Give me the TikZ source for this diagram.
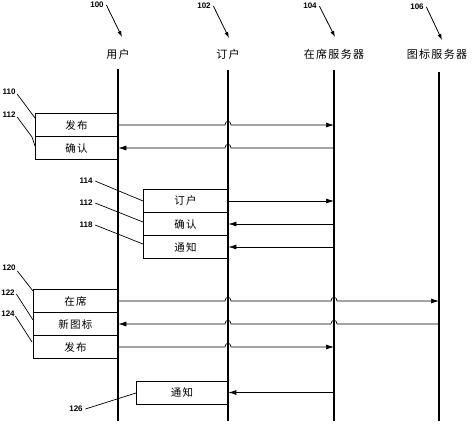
\documentclass[tikz,border=0pt]{standalone}
\usepackage{fontspec}
\newfontfamily\cjk[LetterSpace=12]{Noto Sans CJK SC}
\newfontfamily\numfont{Liberation Sans}
\usetikzlibrary{arrows.meta,calc}
\begin{document}
\begin{tikzpicture}[x=1pt,y=-1pt,
 box/.style={draw,line width=0.8pt,inner sep=0pt,minimum height=23pt,font=\cjk\fontsize{10.5}{11}\selectfont},
 life/.style={line width=1.6pt},
 msg/.style={line width=0.7pt,-{Latex[length=8pt,width=5pt]}},
 num/.style={font=\numfont\bfseries\fontsize{8}{9}\selectfont,inner sep=0.5pt},
 lead/.style={line width=0.7pt},
 refarrow/.style={line width=0.8pt,-{Latex[length=6pt,width=4pt]}},
 head/.style={font=\cjk\fontsize{11}{12}\selectfont}]
\useasboundingbox (0,0) rectangle (474,424);
% header labels
\node[head] (hU) at (118,54) {用户};
\node[head] (hS) at (228,54) {订户};
\node[head] (hP) at (334,54) {在席服务器};
\node[head] (hI) at (437,54) {图标服务器};
% reference numbers on the actors
\node[num] (n100) at (97,5) {100};
\node[num] (n102) at (204,6) {102};
\node[num] (n104) at (310,6) {104};
\node[num] (n106) at (417,7) {106};
\coordinate (t100) at (122,37);
\coordinate (t102) at (229,38);
\coordinate (t104) at (335,37);
\coordinate (t106) at (442,40);
\draw[refarrow] (n100.east) ++(2,0) -- (t100);
\draw[refarrow] (n102.east) ++(2,0) -- (t102);
\draw[refarrow] (n104.east) ++(2,0) -- (t104);
\draw[refarrow] (n106.east) ++(2,0) -- (t106);
% lifelines
\coordinate (Ua) at (118,69); \coordinate (Ub) at (118,421);
\coordinate (Sa) at (228,70); \coordinate (Sb) at (228,421);
\coordinate (Pa) at (334,70); \coordinate (Pb) at (334,421);
\coordinate (Ia) at (439,72); \coordinate (Ib) at (439,421);
\draw[life] (Ua) -- (Ub);
\draw[life] (Sa) -- (Sb);
\draw[life] (Pa) -- (Pb);
\draw[life] (Ia) -- (Ib);
% group 1
\node[box,minimum width=83pt] (pub1) at (76.5,125) {发布};
\node[box,minimum width=83pt] (ack1) at (76.5,148) {确认};
\draw[msg] (pub1.east) -- (225,125) .. controls (225,120) and (231,120) .. (231,125) -- (334,125);
\draw[msg] (334,148) -- (231,148) .. controls (231,143) and (225,143) .. (225,148) -- (ack1.east);
\node[num] (n110) at (9,92) {110};
\node[num] (n112a) at (9,115) {112};
\draw[lead] (n110.east) ++(1,2) -- (35,118);
\draw[lead] (n112a.east) ++(1,2) -- (32,137) -- (35,146);
% group 2
\node[box,minimum width=85pt] (sub) at (185.5,201) {订户};
\node[box,minimum width=85pt] (ack2) at (185.5,224) {确认};
\node[box,minimum width=85pt] (not1) at (185.5,247) {通知};
\draw[msg] (sub.east) -- (334,201);
\draw[msg] (334,224) -- (ack2.east);
\draw[msg] (334,247) -- (not1.east);
\node[num] (n114) at (86,181) {114};
\node[num] (n112b) at (86,203) {112};
\node[num] (n118) at (86,225) {118};
\draw[lead] (n114.east) ++(2,0) -- (143,201);
\draw[lead] (n112b.east) ++(2,0) -- (143,222);
\draw[lead] (n118.east) ++(2,0) -- (143,244);
% group 3
\node[box,minimum width=85pt] (pres) at (75.5,301) {在席};
\node[box,minimum width=85pt] (icon) at (75.5,324) {新图标};
\node[box,minimum width=85pt] (pub2) at (75.5,347) {发布};
\draw[msg] (pres.east) -- (225,301) .. controls (225,296) and (231,296) .. (231,301)
  -- (331,301) .. controls (331,296) and (337,296) .. (337,301) -- (439,301);
\draw[msg] (439,324) -- (337,324) .. controls (337,319) and (331,319) .. (331,324)
  -- (231,324) .. controls (231,319) and (225,319) .. (225,324) -- (icon.east);
\draw[msg] (pub2.east) -- (225,347) .. controls (225,342) and (231,342) .. (231,347) -- (334,347);
\node[num] (n120) at (9,268) {120};
\node[num] (n122) at (8,293) {122};
\node[num] (n124) at (8,314) {124};
\draw[lead] (n120.east) ++(1,3) -- (33,291);
\draw[lead] (n122.east) ++(1,1) -- (33,320);
\draw[lead] (n124.east) ++(0,2) -- (32,342);
% group 4
\node[box,minimum width=92pt] (not2) at (182,392.5) {通知};
\draw[msg] (334,392.5) -- (not2.east);
\node[num] (n126) at (76,409) {126};
\draw[lead] (n126.east) ++(2,0) -- (136,393);
\end{tikzpicture}
\end{document}
